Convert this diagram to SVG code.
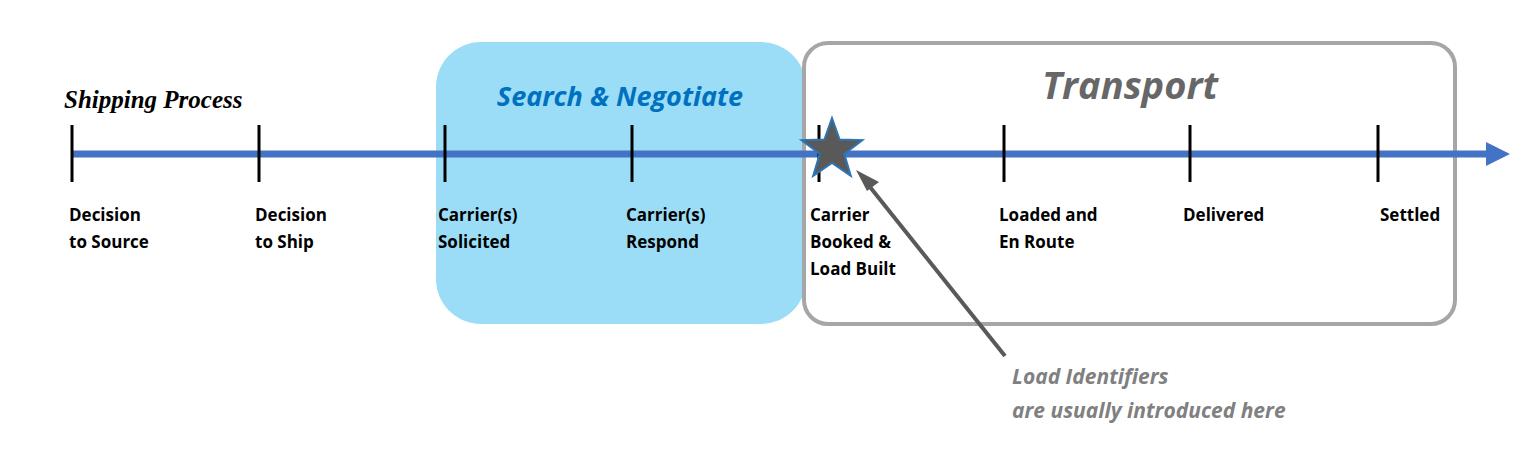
<svg xmlns="http://www.w3.org/2000/svg" width="1536" height="461" viewBox="0 0 1536 461">
<style>
.lbl{font-family:"Open Sans","Liberation Sans",sans-serif;font-weight:bold;font-size:17px;fill:#000}
.tick{stroke:#000;stroke-width:3}
</style>
<defs>
<marker id="ah" markerWidth="8" markerHeight="8" refX="4" refY="4" orient="auto" markerUnits="userSpaceOnUse"><path d="M0,0L8,4L0,8z" fill="#595959"/></marker>
</defs>
<rect width="1536" height="461" fill="#fff"/>
<g id="search"><rect x="436" y="42" width="370" height="282" rx="45" fill="#9BDDF7"/>
<text x="620" y="106" text-anchor="middle" font-family="Open Sans, Liberation Sans, sans-serif" font-weight="bold" font-style="italic" font-size="27" fill="#0070C0">Search &amp; Negotiate</text></g>
<g id="transport"><rect x="804" y="43" width="651" height="281" rx="24" fill="none" stroke="#A6A6A6" stroke-width="4"/>
<text x="1130" y="99" text-anchor="middle" font-family="Open Sans, Liberation Sans, sans-serif" font-weight="bold" font-style="italic" font-size="38" fill="#676767">Transport</text></g>
<text x="64" y="108" font-family="Liberation Serif, serif" font-weight="bold" font-style="italic" font-size="25">Shipping Process</text>
<g id="connectors">
<line x1="72" y1="154" x2="1488" y2="154" stroke="#4472C4" stroke-width="7"/>
<path d="M1486,142L1510,154L1486,166z" fill="#4472C4"/>
<line x1="1005" y1="356" x2="866" y2="182" stroke="#595959" stroke-width="4" marker-end="url(#ah)"/>
<path d="M856,170L879,182L867,191z" fill="#595959"/>
</g>
<g id="ticks">
<line class="tick" x1="72" y1="125" x2="72" y2="182"/>
<line class="tick" x1="259" y1="125" x2="259" y2="182"/>
<line class="tick" x1="445" y1="125" x2="445" y2="182"/>
<line class="tick" x1="632" y1="125" x2="632" y2="182"/>
<line class="tick" x1="819" y1="125" x2="819" y2="182"/>
<line class="tick" x1="1004" y1="125" x2="1004" y2="182"/>
<line class="tick" x1="1190" y1="125" x2="1190" y2="182"/>
<line class="tick" x1="1378" y1="125" x2="1378" y2="182"/>
</g>
<g id="star"><polygon points="832,118 839.6,139.5 862.4,140.1 844.3,154.0 850.8,175.9 832,163 813.2,175.9 819.7,154.0 801.6,140.1 824.4,139.5" fill="#595959" stroke="#2E75B6" stroke-width="2"/></g>
<g id="n1"><text class="lbl" x="69" y="221">Decision</text><text class="lbl" x="69" y="248">to Source</text></g>
<g id="n2"><text class="lbl" x="255" y="221">Decision</text><text class="lbl" x="255" y="248">to Ship</text></g>
<g id="n3"><text class="lbl" x="438" y="221">Carrier(s)</text><text class="lbl" x="438" y="248">Solicited</text></g>
<g id="n4"><text class="lbl" x="626" y="221">Carrier(s)</text><text class="lbl" x="626" y="248">Respond</text></g>
<g id="n5"><text class="lbl" x="810" y="221">Carrier</text><text class="lbl" x="810" y="248">Booked &amp;</text><text class="lbl" x="810" y="275">Load Built</text></g>
<g id="n6"><text class="lbl" x="999" y="221">Loaded and</text><text class="lbl" x="999" y="248">En Route</text></g>
<g id="n7"><text class="lbl" x="1183" y="221">Delivered</text></g>
<g id="n8"><text class="lbl" x="1380" y="221">Settled</text></g>
<g id="note"><text x="1012" y="384" font-family="Open Sans, Liberation Sans, sans-serif" font-weight="bold" font-style="italic" font-size="21" fill="#808080">Load Identifiers</text>
<text x="1012" y="418" font-family="Open Sans, Liberation Sans, sans-serif" font-weight="bold" font-style="italic" font-size="21" fill="#808080">are usually introduced here</text></g>
</svg>
